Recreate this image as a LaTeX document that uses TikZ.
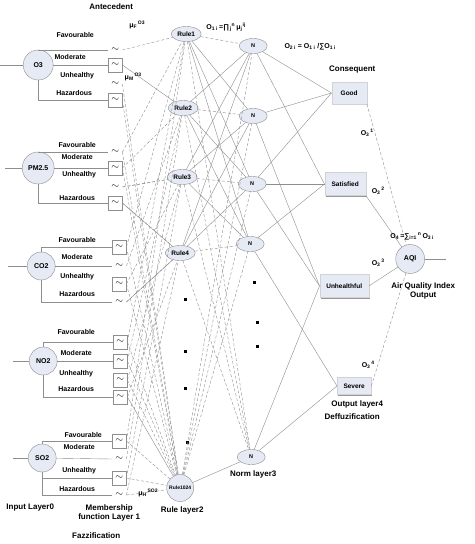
\documentclass[tikz,border=0pt]{standalone}
\usepackage{fontspec}
\setmainfont{Liberation Sans}
\usetikzlibrary{shapes.geometric,shadows}

\definecolor{nodefill}{HTML}{E6EAF5}
\definecolor{linegray}{HTML}{8E8E8E}

\tikzset{
  every node/.style={font=\bfseries\fontsize{7}{8}\selectfont},
  innode/.style={circle,draw=linegray,fill=nodefill,minimum size=28pt,inner sep=0pt},
  rulenode/.style={ellipse,draw=linegray,fill=nodefill,minimum width=30pt,minimum height=15pt,inner sep=0pt,font=\bfseries\fontsize{6.5}{7}\selectfont},
  normnode/.style={ellipse,draw=linegray,fill=nodefill,minimum width=28pt,minimum height=15pt,inner sep=0pt,font=\bfseries\fontsize{5.5}{6}\selectfont},
  outbox/.style={rectangle,draw=linegray!40,fill=nodefill,minimum height=22pt,inner sep=2pt,font=\bfseries\fontsize{6.5}{7}\selectfont,
    drop shadow={shadow xshift=1pt,shadow yshift=-1pt,fill=gray!80,opacity=1}},
  mfbox/.style={rectangle,draw=linegray,minimum size=14pt,inner sep=0pt},
  mfwave/.style={minimum size=14pt,inner sep=0pt},
  wire/.style={draw=linegray,line width=0.4pt},
  dashwire/.style={wire,dash pattern=on 3pt off 2pt},
  dotmark/.style={rectangle,fill=black,minimum size=3pt,inner sep=0pt},
  layertext/.style={font=\bfseries\fontsize{8}{9.5}\selectfont,align=center},
}
\newcommand{\wave}{{\fontsize{10}{10}\selectfont$\sim$}}

\begin{document}
\begin{tikzpicture}[x=1pt,y=-1pt]
  \path[fill=white] (0,0) rectangle (474,544);

  % Input layer
  \node[innode,minimum size=30pt] (o3) at (38,65) {O3};
  \node[innode,minimum size=32pt] (pm) at (38,168) {PM2.5};
  \node[innode] (co) at (41,266) {CO2};
  \node[innode] (no) at (43,361) {NO2};
  \node[innode] (so) at (42,458) {SO2};
  \coordinate (o3in) at (0,65);
  \coordinate (pmin) at (5,168);
  \coordinate (coin) at (8,266);
  \coordinate (noin) at (13,361);
  \coordinate (soin) at (13,458);
  \foreach \i in {o3,pm,co,no,so}
    \draw[wire] (\i in) -- (\i);

  % Membership functions
  \node[mfwave] (o3F) at (115,50) {\wave};
  \node[mfbox]  (o3M) at (115,65) {\wave};
  \node[mfwave] (o3U) at (115,84) {\wave};
  \node[mfbox]  (o3H) at (115,100) {\wave};
  \node[mfwave] (pmF) at (115,152) {\wave};
  \node[mfbox]  (pmM) at (115,168) {\wave};
  \node[mfwave] (pmU) at (115,187) {\wave};
  \node[mfbox]  (pmH) at (115,203) {\wave};
  \node[mfbox]  (coF) at (119,247) {\wave};
  \node[mfwave] (coM) at (119,266) {\wave};
  \node[mfbox]  (coU) at (119,284) {\wave};
  \node[mfwave] (coH) at (119,302) {\wave};
  \node[mfbox]  (noF) at (120,342) {\wave};
  \node[mfbox]  (noM) at (120,361) {\wave};
  \node[mfbox]  (noU) at (120,380) {\wave};
  \node[mfbox]  (noH) at (120,397) {\wave};
  \node[mfbox]  (soF) at (119,441) {\wave};
  \node[mfwave] (soM) at (119,459) {\wave};
  \node[mfbox]  (soU) at (119,478) {\wave};
  \node[mfwave] (soH) at (119,495) {\wave};

  % Brackets from inputs
  \foreach \i in {o3,pm,co,no,so}{
    \draw[wire] (\i.north) |- (\i F.west);
    \draw[wire] (\i) -- (\i M.west);
    \draw[wire] (\i.south) |- (\i H.west);
  }
  \draw[wire] (so.south) |- (soU.west);

  % Membership labels
  \node (o3Ft) at (75,35) {Favourable};
  \node (o3Mt) at (70,57) {Moderate};
  \node (o3Ut) at (77,76) {Unhealthy};
  \node (o3Ht) at (74,93) {Hazardous};
  \node (pmFt) at (77,145) {Favourable};
  \node (pmMt) at (77,157) {Moderate};
  \node (pmUt) at (79,175) {Unhealthy};
  \node (pmHt) at (77,198) {Hazardous};
  \node (coFt) at (77,240) {Favourable};
  \node (coMt) at (77,257) {Moderate};
  \node (coUt) at (77,277) {Unhealthy};
  \node (coHt) at (77,294) {Hazardous};
  \node (noFt) at (76,332) {Favourable};
  \node (noMt) at (76,353) {Moderate};
  \node (noUt) at (76,374) {Unhealthy};
  \node (noHt) at (76,389) {Hazardous};
  \node (soFt) at (83,435) {Favourable};
  \node (soMt) at (79,447) {Moderate};
  \node (soUt) at (79,471) {Unhealthy};
  \node (soHt) at (77,489) {Hazardous};

  % Rule layer
  \node[rulenode] (r1) at (186,34) {Rule1};
  \node[rulenode] (r2) at (183,108) {Rule2};
  \node[rulenode] (r3) at (182,177) {Rule3};
  \node[rulenode] (r4) at (180,253) {Rule4};
  \node[innode,minimum size=27pt,font=\bfseries\fontsize{5}{6}\selectfont] (rn) at (180,488) {Rule1024};
  \node[dotmark] (rd1) at (185,299) {};
  \node[dotmark] (rd2) at (185,351) {};
  \node[dotmark] (rd3) at (185,388) {};
  \node[dotmark] (rd4) at (187,442) {};

  % Norm layer
  \node[normnode] (n1) at (253,46) {N};
  \node[normnode] (n2) at (253,116) {N};
  \node[normnode] (n3) at (252,184) {N};
  \node[normnode] (n4) at (250,244) {N};
  \node[normnode] (nn) at (251,457) {N};
  \node[dotmark] (nd1) at (254,282) {};
  \node[dotmark] (nd2) at (257,322) {};
  \node[dotmark] (nd3) at (257,346) {};

  % Output layer
  \node[outbox,minimum width=35pt] (good) at (349,93) {Good};
  \node[outbox,minimum width=41pt,minimum height=23pt] (sat) at (345,184) {Satisfied};
  \node[outbox,minimum width=49pt,minimum height=23pt] (unh) at (344,286) {Unhealthful};
  \node[outbox,minimum width=34pt,minimum height=17pt] (sev) at (354,386) {Severe};
  \node[innode,minimum size=29pt] (aqi) at (410,259) {AQI};
  \coordinate (aqiout) at (446,259);
  \draw[wire] (aqi) -- (aqiout);

  % Membership -> rules
  \draw[dashwire] (o3F.east) -- (r1);
  \draw[wire] (o3M.east) -- (r2);
  \draw[dashwire] (pmU.east) -- (r3);
  \draw[wire] (pmH.east) -- (r4);
  \draw[wire] (coH.east) -- (r4);
  \draw[wire] (noH.east) -- (rn);
  \draw[dashwire] (soH.east) -- (rn);
  \foreach \m/\r in {F/r1,M/r2,U/r3,H/r4}
    \foreach \i in {pm,co,no,so}
      \draw[dashwire] (\i\m.east) -- (\r);
  \foreach \mf in {o3U,o3H,pmM,pmF,coF,coU,noF,noM,noU,soF,soU}
    \draw[dashwire] (\mf.east) -- (rn);

  % Rules -> norm
  \foreach \r/\n in {r1/n1,r2/n2,r3/n3,r4/n4,rn/n1,rn/n2,rn/n3,rn/n4,r1/nn,r2/nn,r3/nn,r4/nn}
    \draw[dashwire] (\r) -- (\n);
  \foreach \r/\n in {r1/n2,r1/n3,r1/n4,r2/n1,r2/n3,r2/n4,r3/n1,r3/n2,r3/n4,r4/n1,r4/n2,r4/n3,rn/nn}
    \draw[wire] (\r) -- (\n);

  % Norm -> consequent
  \foreach \n/\o in {n1/good,n1/sat,n2/good,n2/unh,n3/good,n3/sat,n3/unh,n4/sat,n4/sev,nn/unh,nn/sev}
    \draw[wire] (\n) -- (\o.west);

  % Consequent -> AQI
  \draw[dashwire] (good.south east) -- (aqi);
  \draw[wire] (sat.south east) -- (aqi);
  \draw[wire] (unh.east) -- (aqi);
  \draw[dashwire] (sev.east) -- (aqi);

  % Formulas
  \node (muF) at (137,25) {μ\textsubscript{F}\textsuperscript{\,O3}};
  \node (muM) at (133,77) {μ\textsubscript{M}\textsuperscript{\,O3}};
  \node (muH) at (148,493) {μ\textsubscript{H}\textsuperscript{\,SO2}};
  \node (oone) at (226,27) {O\textsubscript{1 i}\,=∏\textsubscript{\,j}\textsuperscript{n}\,μ\textsubscript{j}\textsuperscript{ij}};
  \node (otwo) at (310,47) {O\textsubscript{2 i} = O\textsubscript{1 i} /∑O\textsubscript{1 i}};
  \node (othone) at (367,133) {O\textsubscript{3}\textsuperscript{\,1}};
  \node (othtwo) at (378,191) {O\textsubscript{3}\textsuperscript{\,2}};
  \node (oththree) at (378,263) {O\textsubscript{3}\textsuperscript{\,3}};
  \node (othfour) at (368,365) {O\textsubscript{3}\textsuperscript{\,4}};
  \node (ofour) at (412,236) {O\textsubscript{4}\,=∑\textsubscript{i=1}\textsuperscript{\,n}\,O\textsubscript{3 i}};

  % Layer titles
  \node[layertext] (antec) at (111,7) {Antecedent};
  \node[layertext] (conseq) at (352,70) {Consequent};
  \node[layertext] (aqit) at (423,291) {Air Quality Index\\Output};
  \node[layertext] (outl) at (357,404) {Output layer4};
  \node[layertext] (defuz) at (352,417) {Deffuzification};
  \node[layertext] (norml) at (253,474) {Norm layer3};
  \node[layertext] (inl) at (30,508) {Input Layer0};
  \node[layertext] (mfl) at (109,513) {Membership\\function Layer 1};
  \node[layertext] (rulel) at (182,510) {Rule layer2};
  \node[layertext] (fuz) at (96,536) {Fazzification};
\end{tikzpicture}
\end{document}
